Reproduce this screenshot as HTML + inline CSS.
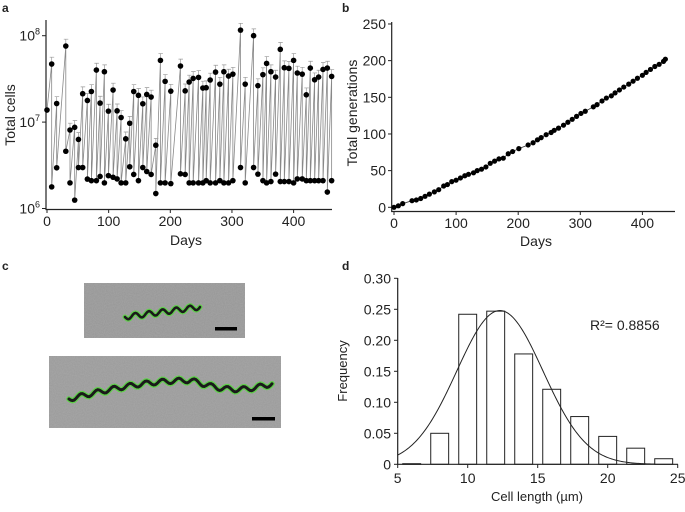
<!DOCTYPE html>
<html><head><meta charset="utf-8"><style>
html,body{margin:0;padding:0;background:#fff;}
svg text{font-family:"Liberation Sans",sans-serif;fill:#222;}
</style></head><body>
<svg id="fig" width="685" height="507" viewBox="0 0 685 507">
<text x="2" y="12" font-size="12" font-weight="bold">a</text>
<text x="342" y="12" font-size="12" font-weight="bold">b</text>
<text x="2" y="270" font-size="12" font-weight="bold">c</text>
<text x="342" y="270" font-size="12" font-weight="bold">d</text>
<g id="pa"></g>
<g id="pb"></g>
<g id="pd"></g>
<g>
  <defs>
    <filter id="noise" x="0" y="0" width="1" height="1"><feTurbulence type="fractalNoise" baseFrequency="0.9" numOctaves="2" seed="3"/><feColorMatrix type="matrix" values="0 0 0 0 0.55  0 0 0 0 0.55  0 0 0 0 0.55  0 0 0 0.35 0"/></filter>
  </defs>
  <g>
    <rect x="84" y="283" width="161" height="55" fill="#959595"/>
    <rect x="84" y="283" width="161" height="55" filter="url(#noise)"/>
    <path id="cell1" d="" fill="none" stroke="#5fd04a" stroke-width="5" stroke-linecap="round"/>
    <path id="cell1b" d="" fill="none" stroke="#1a1a1a" stroke-width="2.6" stroke-linecap="round"/>
    <rect x="215" y="327" width="22" height="3.5" fill="#000"/>
  </g>
  <g>
    <rect x="49" y="356" width="232" height="72" fill="#999"/>
    <rect x="49" y="356" width="232" height="72" filter="url(#noise)"/>
    <path id="cell2" d="" fill="none" stroke="#5fd04a" stroke-width="5.5" stroke-linecap="round"/>
    <path id="cell2b" d="" fill="none" stroke="#1a1a1a" stroke-width="3" stroke-linecap="round"/>
    <rect x="252" y="417" width="23" height="3.5" fill="#000"/>
  </g>
</g>
</svg>
<script>
// ---- Panel a data: days, high (pre-dilution) and low (post-dilution) cell counts in millions
const aDays = [7.6,15.7,30.5,37.3,44.9,51,57.9,65.5,72,80.1,86.1,93.1,99.6,107.2,113.7,120.2,127.7,134.2,140.7,148.3,155.4,161.8,168.9,176.5,184,191.6,200.8,216.5,224.1,230.6,237.1,245.8,252.8,258.2,264.7,273.4,280.4,286.9,294.5,301.5,313.9,321.5,335.1,342.1,350.2,356.2,363.2,370.8,378.4,384.9,392.4,400,406,414,420.6,427.1,434.1,440.6,447.7,454.7,461.7];
const aHigh = [47,16.4,75.9,8.1,8.7,6.3,21.3,17.8,22.6,40,16.6,38.3,13.4,23.5,13.5,11.3,6.4,9.7,22.6,20.4,16.3,20.9,19.5,5.4,51.8,29.6,22.8,44.6,23,29.1,32,32.9,24.8,25,30.7,37.9,27.5,38.3,34.1,35.9,116,27.5,100,26.4,35.4,47.8,38.3,33.2,69.5,42.6,41.9,51.8,37,35.9,20.7,42.2,30.9,33.2,40.7,42.2,33.8];
const aLow = [1.78,2.96,4.6,1.98,1.25,2.98,2.98,2.19,2.1,2.1,2.35,1.98,2.4,2.3,2.2,1.98,1.98,3.04,2.48,2.1,2.98,2.68,2.48,1.49,1.98,1.98,1.94,2.52,2.48,1.98,1.98,1.98,1.98,2.1,1.98,1.98,2.1,1.98,1.98,2.1,2.98,1.98,2.98,2.5,2.1,1.98,2.05,2.5,2.05,2.05,2.05,1.98,2.2,2.2,2.1,2.1,2.1,2.1,2.1,1.55,2.1];
const aStart = [0, 13.8];
const aXTicks = [0,100,200,300,400];
const aYTicks = [6,7,8];

// ---- Panel b data
const bDays = [0,7,14,29,36,43,50,57,65,72,80,86,93,100,107,114,120,128,134,141,148,155,162,169,176,184,191,201,216,224,231,237,245,253,258,265,273,280,287,294,301,308,321,327,335,342,350,356,363,370,378,385,392,400,406,413,420,427,434,437];
const bGen = [0,2,5,9,10,12,15,18,21,24,29,31,35,37,40,43,45,47,50,52,55,60,63,66,67,73,76,80,85,88,92,95,99,102,105,108,112,116,120,124,128,131,137,140,145,149,152,156,160,164,168,172,176,180,184,188,192,195,199,202];
const bXTicks = [0,100,200,300,400];
const bYTicks = [0,50,100,150,200,250];

// ---- Panel d data
const dBins = [6,8,10,12,14,16,18,20,22,24];
const dFreq = [0.001,0.05,0.242,0.247,0.178,0.121,0.077,0.045,0.026,0.009];
const dFit = [0.248,12.3,3.08]; // amplitude, mean, sigma of Gaussian fit
const dXTicks = [5,10,15,20,25];
const dYTicks = [0,0.05,0.10,0.15,0.20,0.25,0.30];
const dYLabels = ["0","0.05","0.10","0.15","0.20","0.25","0.30"];

const NS="http://www.w3.org/2000/svg";
function mk(parent, tag, attrs){const e=document.createElementNS(NS,tag);for(const k in attrs)e.setAttribute(k,attrs[k]);parent.appendChild(e);return e;}
function txt(parent,x,y,s,anchor,size){const t=mk(parent,'text',{x:x,y:y,'font-size':size||14,'text-anchor':anchor||'middle'});t.textContent=s;return t;}

// ===== Panel a
(function(){
  const g=document.getElementById('pa');
  const X=d=>47+d*0.6165;
  const Y=v=>208.5-(Math.log10(v*1e6)-6)*86.4;
  const ax=mk(g,'path',{d:'M46,20 V209.5 H332',stroke:'#222','stroke-width':1.2,fill:'none'});
  
  
  aXTicks.forEach(t=>{mk(g,'line',{x1:X(t),x2:X(t),y1:209.5,y2:213,stroke:'#222'});
    const l=txt(g,X(t),226,String(t));
    
    });
  aYTicks.forEach(p=>{const y=Y(Math.pow(10,p-6));mk(g,'line',{x1:42,x2:46,y1:y,y2:y,stroke:'#222'});
    const l=mk(g,'text',{x:40,y:y+5,'font-size':14,'text-anchor':'end'});
    
    
    l.innerHTML='10<tspan font-size="9" dy="-6">'+p+'</tspan>';});
  const xt=txt(g,186,245,'Days');
  
  
  const yt=txt(g,0,0,'Total cells');yt.setAttribute('transform','translate(15,115) rotate(-90)');
  
  
  let pts=[[aStart[0],aStart[1]]];
  aDays.forEach((d,i)=>{pts.push([d,aHigh[i]]);pts.push([d,aLow[i]]);});
  const line=mk(g,'polyline',{points:pts.map(p=>X(p[0])+','+Y(p[1])).join(' '),fill:'none',stroke:'#888','stroke-width':0.8});
  
  
  aDays.forEach((d,i)=>{const x=X(d),y=Y(aHigh[i]),ye=Y(aHigh[i]*1.2);
    mk(g,'path',{d:`M${x},${y} V${ye} M${x-2},${ye} H${x+2.5}`,stroke:'#999','stroke-width':0.7,fill:'none'});});
  pts.forEach(p=>{const c=mk(g,'circle',{cx:X(p[0]),cy:Y(p[1]),r:2.8,fill:'#000'});
    
    });
})();

// ===== Panel b
(function(){
  const g=document.getElementById('pb');
  const X=d=>394+d*0.621;
  const Y=v=>207.3-v*0.7333;
  const ax=mk(g,'path',{d:'M391.7,22 V211.5 H675',stroke:'#222','stroke-width':1.2,fill:'none'});
  
  
  bXTicks.forEach(t=>{mk(g,'line',{x1:X(t),x2:X(t),y1:211.5,y2:215,stroke:'#222'});
    const l=txt(g,X(t),228,String(t));
    
    });
  bYTicks.forEach(t=>{mk(g,'line',{x1:388,x2:391.7,y1:Y(t),y2:Y(t),stroke:'#222'});
    const l=txt(g,386,Y(t)+5,String(t),'end');
    
    });
  const xt=txt(g,536,246,'Days');
  
  
  const yt=txt(g,0,0,'Total generations');yt.setAttribute('transform','translate(357,113) rotate(-90)');
  
  
  const line=mk(g,'polyline',{points:bDays.map((d,i)=>X(d)+','+Y(bGen[i])).join(' '),fill:'none',stroke:'#333','stroke-width':0.8});
  
  
  bDays.forEach((d,i)=>{const c=mk(g,'circle',{cx:X(d),cy:Y(bGen[i]),r:2.6,fill:'#000'});
    
    });
})();

// ===== Panel d
(function(){
  const g=document.getElementById('pd');
  const X=v=>397.7+(v-5)*14;
  const Y=v=>464.3-v*620;
  dBins.forEach((b,i)=>{const r=mk(g,'rect',{x:X(b-0.64),y:Y(dFreq[i]),width:1.28*14,height:Math.max(0.5,dFreq[i]*620),fill:'#fff',stroke:'#222','stroke-width':1});
    
    });
  const ax=mk(g,'path',{d:'M397.7,278 V464.3 H678',stroke:'#222','stroke-width':1.2,fill:'none'});
  
  
  dXTicks.forEach(t=>{mk(g,'line',{x1:X(t),x2:X(t),y1:464.3,y2:468,stroke:'#222'});
    const l=txt(g,X(t),483,String(t));
    
    });
  dYTicks.forEach((t,i)=>{mk(g,'line',{x1:394,x2:397.7,y1:Y(t),y2:Y(t),stroke:'#222'});
    const l=txt(g,391,Y(t)+5,dYLabels[i],'end');
    
    });
  const xt=txt(g,537,501,'Cell length (µm)',null,13);
  
  
  const yt=txt(g,0,0,'Frequency',null,13);yt.setAttribute('transform','translate(347,371) rotate(-90)');
  
  
  let p=[];for(let v=5;v<=23.5;v+=0.1){const f=dFit[0]*Math.exp(-Math.pow(v-dFit[1],2)/(2*dFit[2]*dFit[2]));p.push(X(v)+','+Y(f));}
  const c=mk(g,'polyline',{points:p.join(' '),fill:'none',stroke:'#222','stroke-width':1});
  
  
  const r=txt(g,590,330,'R²= 0.8856','start',14);
  
  
})();

// ===== Panel c cells (wavy paths)
function wave(x0,y0,x1,y1,n,amp,bend){let d='';const L=120;for(let i=0;i<=L;i++){const t=i/L;const x=x0+(x1-x0)*t;const y=y0+(y1-y0)*t+Math.sin(t*Math.PI*2*n)*amp+bend(t);d+=(i?'L':'M')+x.toFixed(1)+','+y.toFixed(1);}return d;}
const c1=wave(125,317,200,307,5.5,2.6,t=>0);
document.getElementById('cell1').setAttribute('d',c1);document.getElementById('cell1b').setAttribute('d',c1);
const c2=wave(69,399,272,381,12.5,2.5,t=>-9*Math.sin(t*Math.PI*1.1)+ (t>0.6? 8*Math.sin((t-0.6)/0.4*Math.PI):0));
document.getElementById('cell2').setAttribute('d',c2);document.getElementById('cell2b').setAttribute('d',c2);
</script>
</body></html>
